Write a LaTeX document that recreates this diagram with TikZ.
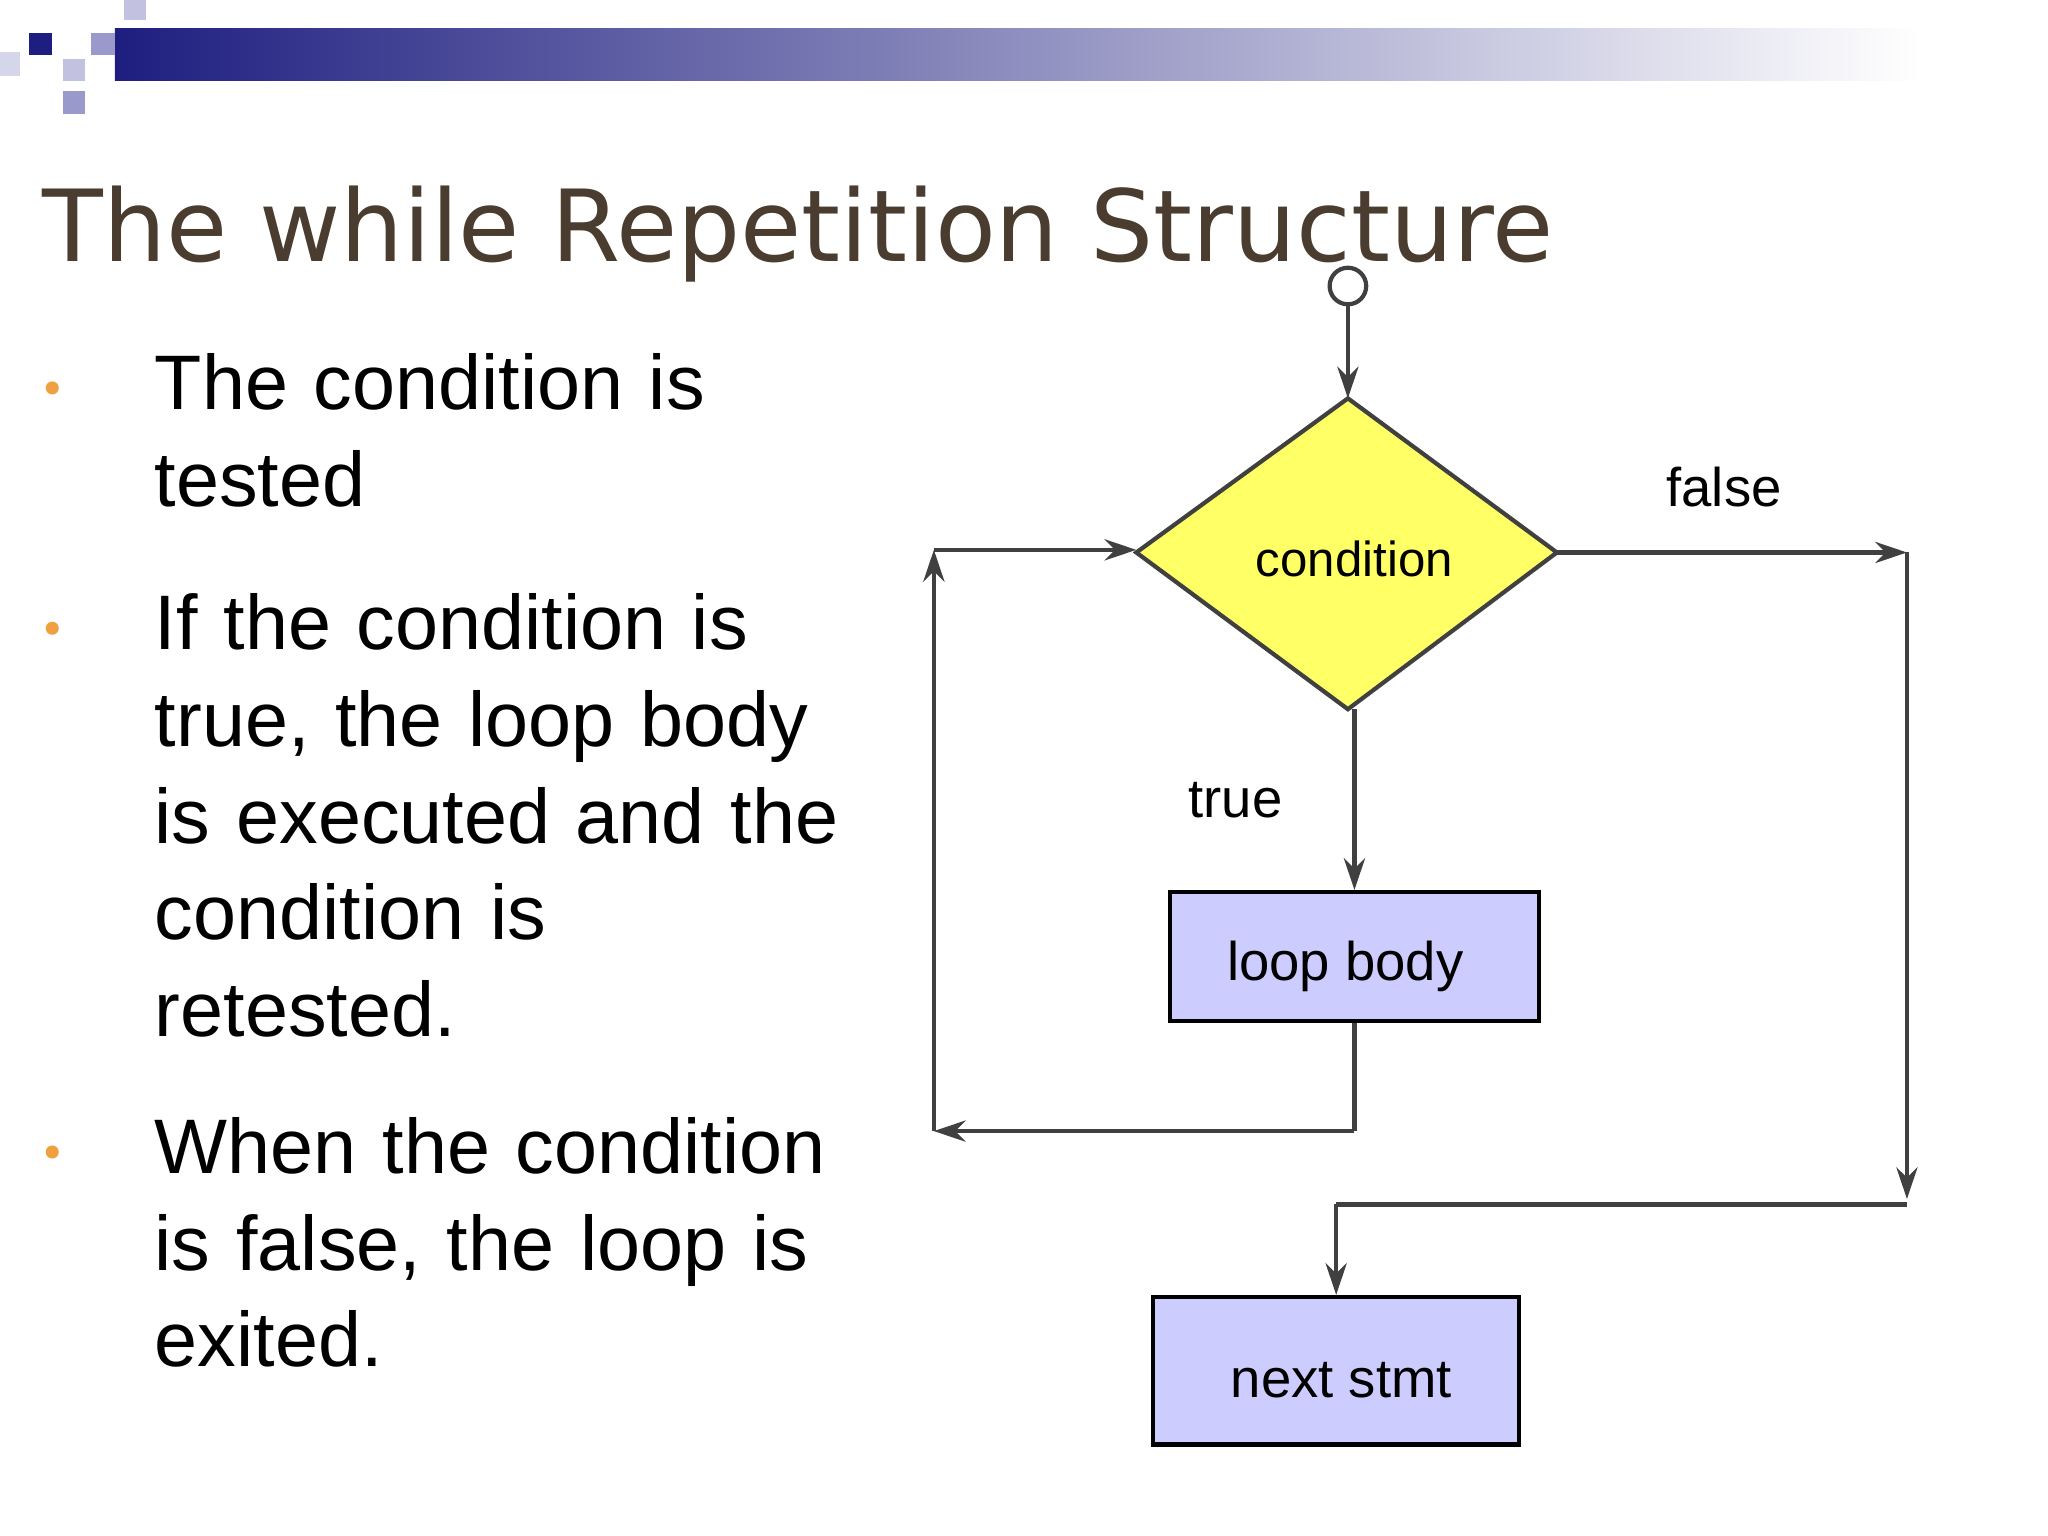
\documentclass[tikz,border=0pt]{standalone}
\usepackage{fontspec}
\setmainfont{Liberation Sans}
\newfontfamily\titlefont{DejaVu Sans}
\usetikzlibrary{arrows.meta,shapes.geometric}
\definecolor{navy}{HTML}{1E1E80}
\definecolor{lilac}{HTML}{9999CC}
\definecolor{boxfill}{HTML}{CCCCFF}
\definecolor{yel}{HTML}{FFFF66}
\definecolor{titlec}{HTML}{4A3C2E}
\definecolor{bul}{HTML}{F0A040}
\definecolor{ln}{HTML}{404040}
\tikzset{
  flow/.style={draw=ln,line width=1.3pt,-{Stealth[length=9pt,width=6pt]}},
  seg/.style={draw=ln,line width=1.3pt},
  bx/.style={draw=black,line width=1.2pt,fill=boxfill},
  bl/.style={font=\fontsize{22}{27.5}\selectfont,anchor=north west,align=left,text width=9.5cm,inner sep=0pt},
  lbl/.style={font=\fontsize{15.5}{19}\selectfont}
}
\begin{document}
\begin{tikzpicture}[x=0.01306cm,y=-0.01306cm]
\useasboundingbox (0,0) rectangle (1568,1176);
\fill[white] (0,0) rectangle (1568,1176);
% top bar
\shade[left color=navy,right color=white] (88,22) rectangle (1470,62);
\fill[navy] (22,25) rectangle (40,42);
\fill[lilac] (70,25) rectangle (88,42);
\fill[lilac!60] (48,45) rectangle (65,62);
\fill[lilac] (48,70) rectangle (65,87);
\fill[lilac!60] (95,0) rectangle (112,15);
\fill[lilac!40] (0,40) rectangle (15,58);
% title
\node[anchor=base west,inner sep=0pt,text=titlec,font=\titlefont\fontsize{28.3}{32}\selectfont] (title) at (32,200) {The while Repetition Structure};
% bullets
\foreach \y in {297,481,882}{\fill[bul] (40,\y) circle (5);}
\node[bl] (t1) at (118,270) {The condition is\\tested};
\node[bl] (t2) at (118,454) {If the condition is\\true, the loop body\\is executed and the\\condition is\\retested.};
\node[bl] (t3) at (118,855) {When the condition\\is false, the loop is\\exited.};
% flowchart
\node[circle,draw=ln,line width=1.2pt,minimum size=28*0.01306cm,inner sep=0pt] (start) at (1032,219) {};
\fill[yel,draw=ln,line width=1.2pt] (1032,305) -- (1192,423) -- (1032,543) -- (870,423) -- cycle;
\coordinate (dtop) at (1032,305);
\coordinate (dleft) at (870,421);
\coordinate (dright) at (1192,423);
\coordinate (dbot) at (1037,543);
\node[font=\fontsize{14}{17}\selectfont] (cond) at (1037,428) {condition};
\node[bx,minimum width=282*0.01306cm,minimum height=99*0.01306cm] (body) at (1037,732.5) {};
\node[lbl] (bodyt) at (1030,740) {loop body};
\node[bx,minimum width=280*0.01306cm,minimum height=113*0.01306cm] (next) at (1023,1049.5) {};
\node[lbl] (nextt) at (1027,1057) {next stmt};
\node[lbl] (false) at (1320,373) {false};
\node[lbl] (true) at (946,613) {true};
\draw[flow] (start) -- (dtop);
\draw[flow] (dbot) -- (body.north);
\coordinate (bl1) at (1037,866);
\coordinate (bl2) at (715,866);
\coordinate (bl3) at (715,421);
\draw[seg] (body.south) -- (bl1);
\draw[flow] (bl1) -- (bl2);
\draw[flow] (bl2) -- (bl3);
\draw[flow] (bl3) -- (dleft);
\coordinate (fr1) at (1460,423);
\coordinate (fr2) at (1460,918);
\coordinate (fr3) at (1460,922);
\coordinate (fr4) at (1023,922);
\draw[flow] (dright) -- (fr1);
\draw[flow] (fr1) -- (fr2);
\draw[seg] (fr3) -- (fr4);
\draw[flow] (fr4) -- (next.north);
\end{tikzpicture}
\end{document}
